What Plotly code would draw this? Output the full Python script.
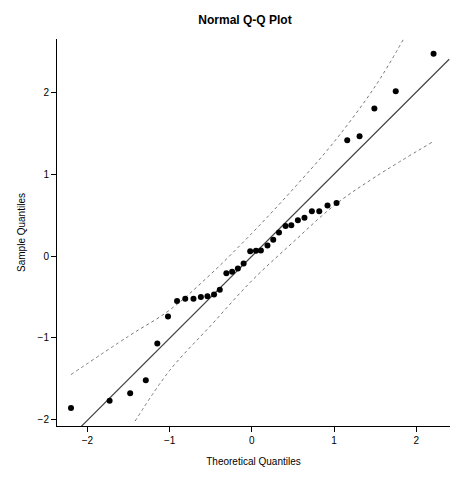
import plotly.graph_objects as go

# sample quantiles vs theoretical quantiles
theo = [-2.20, -1.73, -1.48, -1.29, -1.15, -1.02, -0.91, -0.81, -0.71, -0.62,
        -0.54, -0.46, -0.39, -0.31, -0.24, -0.17, -0.10, -0.02, 0.05, 0.11,
        0.19, 0.26, 0.33, 0.41, 0.48, 0.56, 0.64, 0.73, 0.82, 0.92,
        1.03, 1.16, 1.31, 1.49, 1.75, 2.21]
samp = [-1.86, -1.77, -1.68, -1.52, -1.07, -0.74, -0.55, -0.52, -0.52, -0.50,
        -0.49, -0.47, -0.41, -0.21, -0.19, -0.15, -0.09, 0.06, 0.065, 0.07,
        0.13, 0.20, 0.29, 0.37, 0.38, 0.44, 0.47, 0.55, 0.55, 0.62,
        0.65, 1.42, 1.47, 1.81, 2.02, 2.48]

# reference line (intercept, slope)
line_a, line_b = 0.0, 1.005
line_x = [-2.4, 2.4]

# confidence band
upper_x = [-2.20, -1.5, -1.0, -0.5, 0.0, 0.5, 1.0, 1.5, 1.84]
upper_y = [-1.45, -0.98, -0.66, -0.22, 0.28, 0.82, 1.40, 2.08, 2.65]
lower_x = [-1.42, -1.0, -0.5, 0.0, 0.5, 1.0, 1.5, 2.20]
lower_y = [-2.02, -1.40, -0.85, -0.30, 0.17, 0.62, 0.97, 1.40]

band = dict(color='#777777', width=1, dash='dot')
fig = go.Figure()
fig.add_trace(go.Scatter(x=upper_x, y=upper_y, mode='lines', line_shape='spline', line=band))
fig.add_trace(go.Scatter(x=lower_x, y=lower_y, mode='lines', line_shape='spline', line=band))
fig.add_trace(go.Scatter(x=line_x, y=[line_a + line_b*v for v in line_x], mode='lines',
                         line=dict(color='#444444', width=1.2)))
fig.add_trace(go.Scatter(x=theo, y=samp, mode='markers',
                         marker=dict(color='black', size=6)))

axis_common = dict(showgrid=False, zeroline=False, showline=True, linecolor='black',
                   linewidth=1, ticks='outside', ticklen=5, tickcolor='black',
                   tickfont=dict(size=10, color='black'), dtick=1)
fig.update_layout(
    width=474, height=480, showlegend=False,
    plot_bgcolor='white', paper_bgcolor='white',
    font=dict(family='Arial, Liberation Sans, sans-serif', color='black'),
    margin=dict(l=49, r=32, t=31, b=62),
    title=dict(text='<b>Normal Q-Q Plot</b>', x=0.5, xanchor='center', y=0.985,
               font=dict(size=12)),
    xaxis=dict(range=[-2.37, 2.41], title=dict(text='Theoretical Quantiles',
               font=dict(size=10), standoff=12), **axis_common),
    yaxis=dict(range=[-2.08, 2.66], title=dict(text='Sample Quantiles',
               font=dict(size=10), standoff=10), **axis_common),
)
fig.write_html("out.html")
